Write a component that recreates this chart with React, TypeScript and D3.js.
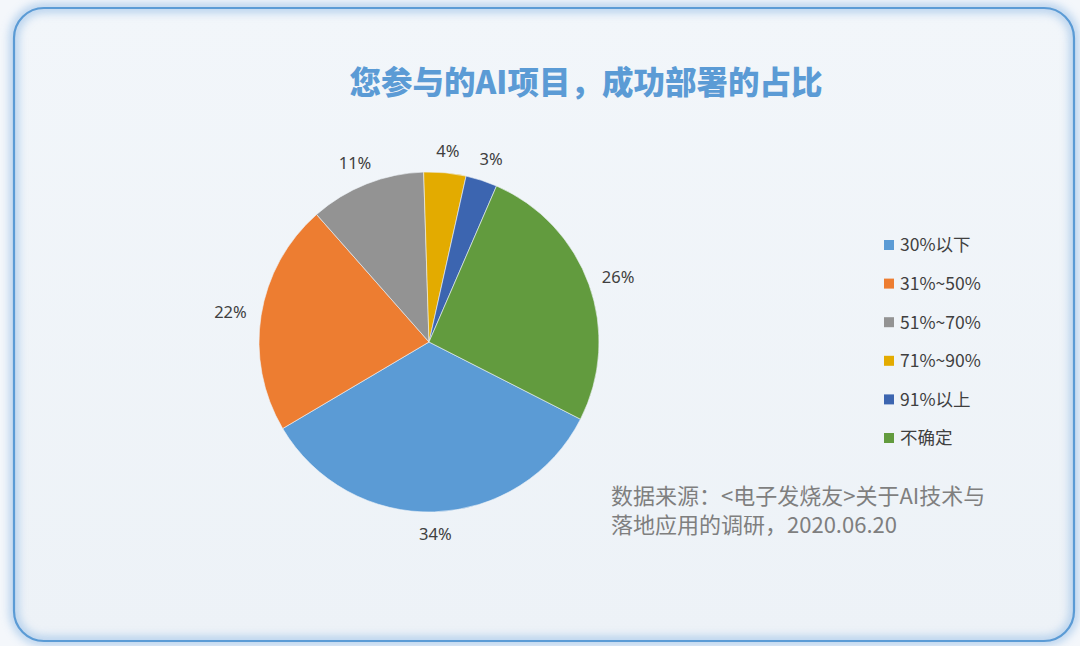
import { useEffect } from 'react'
import * as d3 from 'd3'

const categories = ['30%以下', '31%~50%', '51%~70%', '71%~90%', '91%以上', '不确定']
const shares = [34, 22, 11, 4, 3, 26]
const colors = ['#5b9bd5', '#ed7d31', '#939393', '#e3ab00', '#3c65b0', '#629b3e']
const title = '您参与的AI项目，成功部署的占比'
const sourceLines = ['数据来源：<电子发烧友>关于AI技术与', '落地应用的调研，2020.06.20']

const W = 1080
const H = 646
const cx = 429
const cy = 342
const radius = 170
const startDeg = 117

type Slice = d3.PieArcDatum<number>

export default function App() {
  useEffect(() => {
    document.body.style.margin = '0'
  }, [])

  const pie = d3.pie<number>()
    .sort(null)
    .startAngle((startDeg * Math.PI) / 180)
    .endAngle(((startDeg + 360) * Math.PI) / 180)
  const arcs: Slice[] = pie(shares)
  const arcGen = d3.arc<Slice>().innerRadius(0).outerRadius(radius)

  // outside-end labels: box pushed out along the slice's mid angle
  const labelPos = (a: Slice) => {
    const mid = (a.startAngle + a.endAngle) / 2
    const ux = Math.sin(mid)
    const uy = -Math.cos(mid)
    const halfW = 16
    const halfH = 7
    const d = radius + 15
    return [cx + ux * d + ux * halfW, cy + uy * d + uy * halfH]
  }

  const legendY = d3.scalePoint<string>().domain(categories).range([245, 438])

  const labelFont = '"Noto Sans", "Open Sans", sans-serif'
  const cjkFont = '"Noto Sans CJK SC", "Noto Sans", sans-serif'

  return (
    <svg width={W} height={H} style={{ display: 'block', position: 'absolute', left: 0, top: 0 }}>
      <defs>
        <linearGradient id="bg" x1="0" y1="0" x2="0" y2="1">
          <stop offset="0%" stopColor="#f2f6fa" />
          <stop offset="100%" stopColor="#edf2f7" />
        </linearGradient>
        <filter id="glow" x="-5%" y="-5%" width="110%" height="110%">
          <feGaussianBlur stdDeviation="4" />
        </filter>
      </defs>
      <rect x={0} y={0} width={W} height={H} fill="#f4f7fb" />
      <rect x={14} y={8} width={1060} height={633} rx={30} fill="url(#bg)" />
      <rect x={14} y={8} width={1060} height={633} rx={30} fill="none"
        stroke="#a9c9ea" strokeWidth={10} filter="url(#glow)" opacity={0.8} />
      <rect x={14} y={8} width={1060} height={633} rx={30} fill="none"
        stroke="#5b9bd5" strokeWidth={2.2} />

      <text x={586} y={94} textAnchor="middle" fill="#5b9bd5" fontSize={31.5}
        fontWeight={900} fontFamily={cjkFont}>{title}</text>

      <g transform={`translate(${cx},${cy})`}>
        {arcs.map((a, i) => (
          <path key={categories[i]} d={arcGen(a) ?? ''} fill={colors[i]}
            stroke="#eef3f8" strokeWidth={0.6} />
        ))}
      </g>

      {arcs.map((a, i) => {
        const [x, y] = labelPos(a)
        return (
          <text key={'l' + i} x={x} y={y} dy="0.35em" textAnchor="middle"
            fill="#404040" fontSize={16.5} fontFamily={labelFont}>{shares[i]}%</text>
        )
      })}

      {categories.map((c, i) => {
        const y = legendY(c) ?? 0
        return (
          <g key={'g' + c}>
            <rect x={884} y={y - 5} width={10} height={10} fill={colors[i]} />
            <text x={900} y={y} dy="0.36em" fill="#404040" fontSize={17.5}
              fontFamily={cjkFont}>{c}</text>
          </g>
        )
      })}

      {sourceLines.map((s, i) => (
        <text key={'s' + i} x={611} y={496 + i * 29} dy="0.36em" fill="#7f7f7f"
          fontSize={22} fontFamily={cjkFont}>{s}</text>
      ))}
    </svg>
  )
}
